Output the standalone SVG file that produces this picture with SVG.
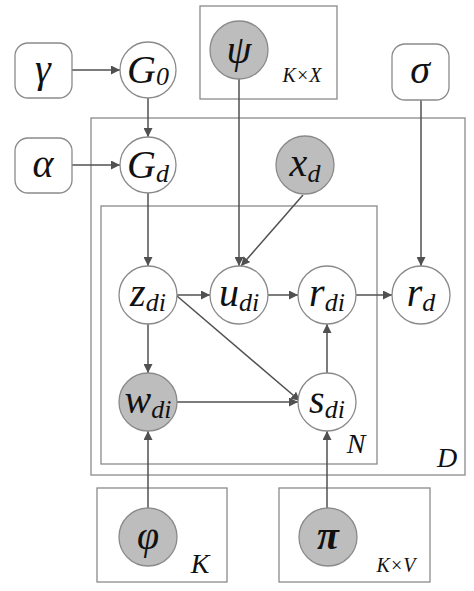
<svg xmlns="http://www.w3.org/2000/svg" width="474" height="591" viewBox="0 0 474 591">
<defs>
<marker id="ah" viewBox="0 0 10 10" refX="10" refY="5" markerWidth="9" markerHeight="9" markerUnits="userSpaceOnUse" orient="auto">
<path d="M0,0 L10,5 L0,10 z" fill="#505050"/>
</marker>
</defs>
<style>
.plate{fill:none;stroke:#8a8a8a;stroke-width:1.3}
.box{fill:#fff;stroke:#8a8a8a;stroke-width:1.3}
.node{fill:#fff;stroke:#8a8a8a;stroke-width:1.3}
.obs{fill:#bdbdbd;stroke:#8a8a8a;stroke-width:1.3}
.e{stroke:#505050;stroke-width:1.5;fill:none;marker-end:url(#ah)}
text{font-family:'Liberation Serif',serif;font-style:italic;fill:#111;text-anchor:middle}
</style>
<rect width="474" height="591" fill="#fff"/>
<g id="plates">
<rect id="plate-D" class="plate" x="91" y="118" width="374" height="357"/>
<rect id="plate-N" class="plate" x="101" y="206" width="276" height="258"/>
<rect id="plate-KX" class="plate" x="200" y="6" width="137" height="93"/>
<rect id="plate-K" class="plate" x="97" y="488" width="130" height="94"/>
<rect id="plate-KV" class="plate" x="279" y="488" width="151" height="94"/>
<text style="font-size:20px" x="302" y="82">K×X</text>
<text style="font-size:28px" x="356" y="453">N</text>
<text style="font-size:28px" x="447" y="467">D</text>
<text style="font-size:28px" x="200" y="573">K</text>
<text style="font-size:20px" x="396" y="572">K×V</text>
</g>
<g id="connectors">
<line class="e" x1="72" y1="70" x2="120" y2="70"/>
<line class="e" x1="148" y1="98" x2="148" y2="137"/>
<line class="e" x1="72" y1="165" x2="120" y2="165"/>
<line class="e" x1="148" y1="193" x2="148" y2="266"/>
<line class="e" x1="239" y1="79" x2="239" y2="266"/>
<line class="e" x1="303" y1="195" x2="241" y2="266"/>
<line class="e" x1="421" y1="100" x2="421" y2="266"/>
<line class="e" x1="177" y1="295" x2="210" y2="295"/>
<line class="e" x1="268" y1="295" x2="298" y2="295"/>
<line class="e" x1="356" y1="295" x2="392" y2="295"/>
<line class="e" x1="177" y1="296" x2="300" y2="401"/>
<line class="e" x1="148" y1="324" x2="148" y2="373"/>
<line class="e" x1="177" y1="402" x2="298" y2="402"/>
<line class="e" x1="327" y1="373" x2="327" y2="324"/>
<line class="e" x1="148" y1="508" x2="148" y2="431"/>
<line class="e" x1="327" y1="508" x2="327" y2="431"/>
</g>
<g id="gamma"><rect class="box" x="15" y="43" width="57" height="55" rx="13"/><text style="font-size:40px" x="43" y="82">γ</text></g>
<g id="alpha"><rect class="box" x="15" y="138" width="57" height="55" rx="13"/><text style="font-size:40px" x="43" y="177">α</text></g>
<g id="sigma"><rect class="box" x="392" y="44" width="57" height="56" rx="13"/><text style="font-size:40px" x="420" y="83">σ</text></g>
<g id="G0"><circle class="node" cx="148" cy="70" r="28"/><text style="font-size:40px" x="148" y="83">G<tspan style="font-size:26px" dy="2">0</tspan></text></g>
<g id="Gd"><circle class="node" cx="148" cy="165" r="28"/><text style="font-size:40px" x="148" y="178">G<tspan style="font-size:26px" dy="4">d</tspan></text></g>
<g id="psi"><circle class="obs" cx="239" cy="50" r="29"/><text style="font-size:40px" x="239" y="63">ψ</text></g>
<g id="xd"><circle class="obs" cx="305" cy="165" r="29"/><text style="font-size:40px" x="305" y="176">x<tspan style="font-size:26px" dy="6">d</tspan></text></g>
<g id="zdi"><circle class="node" cx="148" cy="295" r="29"/><text style="font-size:40px" x="148" y="306">z<tspan style="font-size:26px" dy="5">di</tspan></text></g>
<g id="udi"><circle class="node" cx="239" cy="295" r="29"/><text style="font-size:40px" x="239" y="306">u<tspan style="font-size:26px" dy="5">di</tspan></text></g>
<g id="rdi"><circle class="node" cx="327" cy="295" r="29"/><text style="font-size:40px" x="327" y="306">r<tspan style="font-size:26px" dy="5">di</tspan></text></g>
<g id="rd"><circle class="node" cx="421" cy="295" r="29"/><text style="font-size:40px" x="421" y="306">r<tspan style="font-size:26px" dy="5">d</tspan></text></g>
<g id="wdi"><circle class="obs" cx="148" cy="402" r="29"/><text style="font-size:40px" x="148" y="413">w<tspan style="font-size:26px" dy="5">di</tspan></text></g>
<g id="sdi"><circle class="node" cx="327" cy="402" r="29"/><text style="font-size:40px" x="327" y="413">s<tspan style="font-size:26px" dy="5">di</tspan></text></g>
<g id="phi"><circle class="obs" cx="148" cy="537" r="29"/><text style="font-size:40px" x="148" y="549">φ</text></g>
<g id="pi"><circle class="obs" cx="328" cy="537" r="29"/><text style="font-size:40px;font-weight:bold" x="328" y="549">π</text></g>
</svg>
